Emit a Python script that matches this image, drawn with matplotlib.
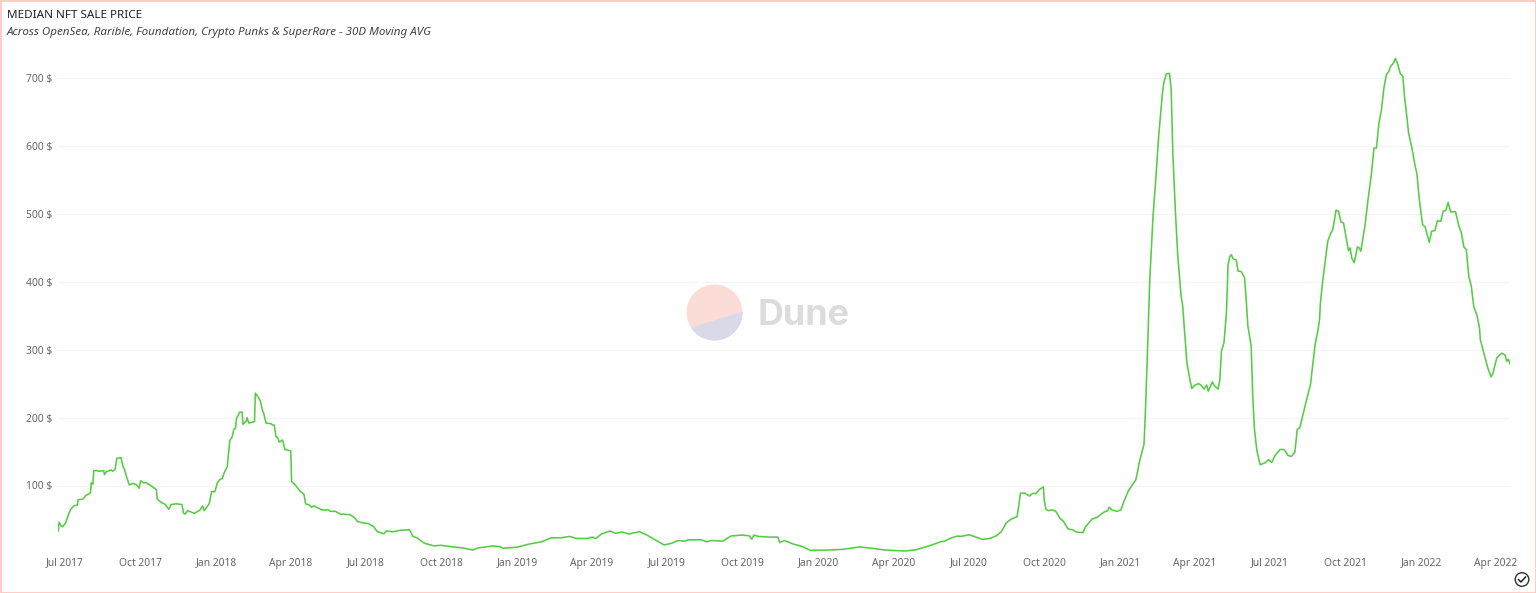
import pandas as pd
import matplotlib
matplotlib.use('Agg')
import matplotlib.pyplot as plt
import matplotlib.dates as mdates
from matplotlib.patches import Circle, Polygon, Rectangle

plt.rcParams['font.family'] = ['Noto Sans', 'DejaVu Sans']

title = 'MEDIAN NFT SALE PRICE'
subtitle = 'Across OpenSea, Rarible, Foundation, Crypto Punks & SuperRare - 30D Moving AVG'
y_ticks = [100, 200, 300, 400, 500, 600, 700]

# (date, median price) per year
dates_2017 = ['06-23', '06-24', '06-26', '06-28', '07-02', '07-05', '07-08', '07-12', '07-16', '07-17',
              '07-23', '07-26', '08-01', '08-02', '08-04', '08-05', '08-08', '08-12', '08-17', '08-18',
              '08-20', '08-26', '08-28', '08-31', '09-02', '09-07', '09-10', '09-11', '09-14', '09-17',
              '09-22', '09-26', '09-29', '10-01', '10-04', '10-08', '10-13', '10-20', '10-21', '10-26',
              '10-31', '11-04', '11-07', '11-13', '11-20', '11-22', '11-24', '11-27', '12-05', '12-12',
              '12-15', '12-17', '12-23', '12-26', '12-30']
price_2017 = [33, 46, 41, 39, 45, 56, 65, 70, 71, 79,
              80, 85, 89, 104, 102, 122, 122, 121, 122, 116,
              120, 123, 121, 124, 140, 141, 126, 125, 112, 101,
              103, 101, 96, 107, 104, 104, 100, 94, 80, 75,
              72, 65, 72, 73, 72, 59, 58, 63, 59, 64,
              70, 63, 73, 91, 91]

dates_2018 = ['01-02', '01-05', '01-08', '01-10', '01-14', '01-17', '01-20', '01-22', '01-24', '01-25',
              '01-29', '02-01', '02-02', '02-06', '02-07', '02-09', '02-16', '02-17', '02-20', '02-23',
              '02-26', '02-27', '03-02', '03-08', '03-10', '03-12', '03-14', '03-16', '03-18', '03-22',
              '03-25', '04-01', '04-02', '04-07', '04-12', '04-17', '04-19', '04-24', '04-26', '04-29',
              '05-09', '05-17', '05-19', '05-25', '05-31', '06-12', '06-17', '06-21', '06-27', '07-04',
              '07-10', '07-15', '07-23', '07-26', '08-03', '08-12', '08-23', '08-27', '09-01', '09-10',
              '09-22', '09-30', '10-12', '10-27', '11-08', '11-14', '12-02', '12-11', '12-14', '12-31']
price_2018 = [104, 109, 110, 118, 128, 166, 172, 183, 184, 198,
              208, 208, 190, 195, 200, 192, 194, 236, 231, 225,
              209, 207, 192, 191, 189, 189, 172, 171, 164, 167,
              153, 151, 106, 100, 92, 87, 73, 71, 68, 70,
              64, 64, 62, 62, 58, 57, 53, 47, 45, 44,
              40, 32, 29, 33, 32, 34, 35, 25, 23, 15,
              11, 12, 10, 8, 5, 8, 11, 10, 7.5, 9]

dates_2019 = ['01-16', '01-30', '02-11', '02-23', '03-05', '03-14', '03-26', '04-02', '04-06', '04-13',
              '04-23', '04-30', '05-08', '05-16', '05-29', '06-07', '06-19', '06-28', '07-07', '07-15',
              '07-23', '07-27', '08-12', '08-19', '08-24', '09-07', '09-17', '09-30', '10-09', '10-12',
              '10-15', '10-20', '11-03', '11-13', '11-15', '11-21', '12-01', '12-13', '12-22']
price_2019 = [14, 17, 23, 23, 25, 22, 22, 24, 22, 28.6,
              33, 29.6, 31.5, 28.6, 32, 27, 18.7, 12.4, 15, 19,
              18, 20, 20, 17, 19, 18, 25.6, 27, 26, 21,
              27, 25, 24, 24, 16, 19, 14, 10, 4.5]

dates_2020 = ['01-15', '01-31', '02-20', '03-03', '03-22', '04-15', '04-29', '05-03', '05-19', '05-28',
              '06-02', '06-10', '06-18', '06-22', '07-02', '07-09', '07-18', '07-27', '08-04', '08-10',
              '08-16', '08-22', '08-29', '08-31', '09-02', '09-07', '09-13', '09-17', '09-21', '09-25',
              '09-30', '10-01', '10-03', '10-06', '10-11', '10-15', '10-20', '10-24', '10-30', '11-05',
              '11-09', '11-17', '11-20', '11-28', '12-04', '12-12', '12-17', '12-19', '12-22', '12-28']
price_2020 = [5, 6, 9.5, 8, 5, 3.5, 5.5, 7, 13, 17,
              18, 22.7, 25.6, 25, 27.5, 24.6, 20.7, 22, 26, 32,
              45, 50.6, 54, 69, 88.5, 89, 84.5, 88.5, 88, 94,
              98, 78.6, 65, 63, 64, 62, 51.6, 47.7, 36, 34.5,
              31.5, 30.5, 39, 50.6, 53, 60.5, 63, 68, 64, 62]

dates_2021 = ['01-02', '01-06', '01-11', '01-17', '01-20', '01-23', '01-24', '01-30', '01-31', '02-01',
              '02-04', '02-06', '02-10', '02-13', '02-17', '02-21', '02-23', '02-26', '03-02', '03-04',
              '03-06', '03-09', '03-12', '03-14', '03-16', '03-18', '03-21', '03-23', '03-27', '03-29',
              '04-02', '04-06', '04-09', '04-13', '04-16', '04-18', '04-23', '04-26', '04-30', '05-02',
              '05-04', '05-07', '05-10', '05-12', '05-14', '05-16', '05-18', '05-22', '05-24', '05-28',
              '06-01', '06-03', '06-05', '06-09', '06-11', '06-13', '06-16', '06-20', '06-26', '06-30',
              '07-04', '07-08', '07-14', '07-19', '07-24', '07-28', '08-01', '08-04', '08-07', '08-11',
              '08-16', '08-20', '08-23', '08-26', '08-29', '08-31', '09-01', '09-04', '09-10', '09-13',
              '09-16', '09-20', '09-23', '09-26', '09-29', '10-02', '10-05', '10-07', '10-09', '10-12',
              '10-16', '10-18', '10-20', '10-25', '10-29', '11-02', '11-05', '11-08', '11-11', '11-14',
              '11-17', '11-20', '11-23', '11-25', '11-28', '11-29', '12-01', '12-04', '12-07', '12-10',
              '12-12', '12-14', '12-17', '12-21', '12-25', '12-27', '12-30']
price_2021 = [64, 77.6, 92, 103, 108, 125, 132.5, 160.6, 187, 217,
              325, 403, 497, 546, 617, 673, 693, 706, 707, 683,
              590, 506, 438, 408, 379, 364, 315, 281, 254, 243,
              248, 250, 248, 242, 248, 239, 252.5, 246, 242, 256,
              298, 310, 354, 425, 437, 440, 434, 432, 416, 415,
              406, 374, 335, 306, 230, 183, 151, 130.5, 133.5, 138,
              134, 144, 153, 153, 144, 143, 149, 183, 185, 205,
              230, 249, 281, 311, 328, 345, 369, 403, 460, 470,
              477, 505.6, 504, 488, 487, 467, 446, 450, 435, 428,
              451.5, 450, 445, 482, 523, 560, 597, 597, 634, 653,
              685, 705, 710, 717, 721, 723, 729, 720, 706, 703,
              673, 653, 619, 597, 570, 560, 521]

dates_2022 = ['01-03', '01-06', '01-11', '01-14', '01-18', '01-21', '01-25', '01-28', '01-31', '02-03',
              '02-06', '02-12', '02-16', '02-19', '02-22', '02-25', '02-28', '03-03', '03-06', '03-10',
              '03-13', '03-14', '03-18', '03-23', '03-27', '03-29', '04-03', '04-09', '04-13', '04-15',
              '04-17', '04-19']
price_2022 = [484, 481, 458, 474.5, 475.5, 490, 489, 504, 505, 517,
              503, 503, 482, 472, 451.5, 447.5, 408, 394, 364, 350,
              332, 315, 296, 273.5, 260, 264, 288, 295, 292, 283,
              286, 279]

years = {2017: (dates_2017, price_2017), 2018: (dates_2018, price_2018), 2019: (dates_2019, price_2019),
         2020: (dates_2020, price_2020), 2021: (dates_2021, price_2021), 2022: (dates_2022, price_2022)}

days = []
prices = []
for year, (d, p) in years.items():
    days += [f'{year}-{x}' for x in d]
    prices += p
days = pd.to_datetime(days)

W, H = 1536, 593
fig = plt.figure(figsize=(W / 100, H / 100), dpi=100, facecolor='white')

# plot area, 0 $ sits at y=553.4 and 100 $ is 67.9 px tall
y_top = 740
top_px = 553.4 - y_top * 0.679
ax = fig.add_axes([58.3 / W, 1 - 553.4 / H, (1510 - 58.3) / W, (553.4 - top_px) / H])
ax.plot(days, prices, color='#55cc44', linewidth=1.15, solid_joinstyle='round')
ax.set_xlim(days[0], days[-1])
ax.set_ylim(0, y_top)
ax.set_yticks(y_ticks)
ax.set_yticklabels([f'{v} $' for v in y_ticks])
ax.xaxis.set_major_locator(mdates.MonthLocator(bymonth=(1, 4, 7, 10)))
ax.xaxis.set_major_formatter(mdates.DateFormatter('%b %Y'))
ax.tick_params(axis='both', length=0, labelsize=7.4, labelcolor='#666666')
ax.tick_params(axis='x', pad=3)
ax.tick_params(axis='y', pad=4.5)
ax.grid(axis='y', color='#f4f4f4', linewidth=0.8)
ax.set_axisbelow(True)
for s in ax.spines.values():
    s.set_visible(False)
ax.patch.set_alpha(0)

# overlay in pixel coordinates for logo, border and icon
ov = fig.add_axes([0, 0, 1, 1], zorder=-1)
ov.set_xlim(0, W)
ov.set_ylim(H, 0)
ov.axis('off')
circle = Circle((714.5, 312.5), 28, facecolor='#fcdcd6', edgecolor='none')
ov.add_patch(circle)
lower = Polygon([(680, 330.9), (750, 309.5), (750, 350), (680, 350)], facecolor='#d9d9e8', edgecolor='none')
ov.add_patch(lower)
lower.set_clip_path(circle)
ov.text(758, 315.5, 'Dune', fontsize=25.8, fontweight='bold', color='#dcdcdc', va='center', ha='left',
        family=['Inter', 'DejaVu Sans'])
ov.add_patch(Rectangle((0.5, 0.5), W - 1, H - 1, facecolor='none', edgecolor='#ffc4ba', linewidth=1.2))

ov2 = fig.add_axes([0, 0, 1, 1], zorder=3)
ov2.set_xlim(0, W)
ov2.set_ylim(H, 0)
ov2.axis('off')
ov2.add_patch(Circle((1522, 579.5), 6.8, facecolor='white', edgecolor='#333333', linewidth=1))
ov2.plot([1518.5, 1521, 1525.5], [579.5, 582, 577], color='#222222', linewidth=1.1)

fig.text(7 / W, 1 - 15 / H, title, fontsize=8.4, fontweight='medium', color='#222222', va='center', ha='left')
fig.text(7 / W, 1 - 32.5 / H, subtitle, fontsize=8.35, style='italic', color='#444444', va='center', ha='left')

fig.savefig('out.png', dpi=100)
